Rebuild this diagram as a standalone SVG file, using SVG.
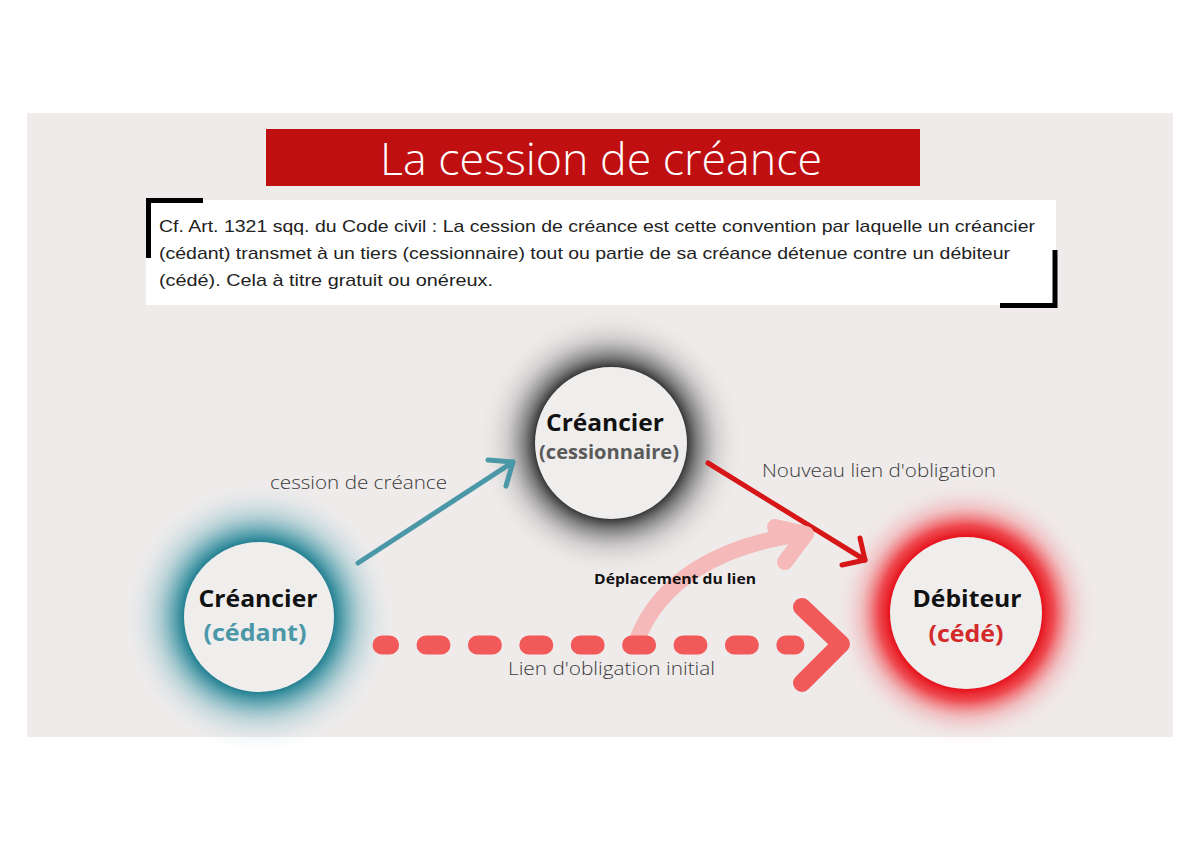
<svg xmlns="http://www.w3.org/2000/svg" width="1200" height="849" viewBox="0 0 1200 849">
<style>
.body{font-family:"Liberation Sans",Arial,sans-serif;font-size:17px;fill:#222}
.node{font-family:"Open Sans","Noto Sans",sans-serif;font-weight:700;text-anchor:middle}
.lbl{font-family:"Open Sans","Noto Sans",sans-serif;font-weight:300;font-size:19px;fill:#3a3a3a}
.disc{fill:#f0eded}
</style>
<defs>
<radialGradient id="gTeal" cx="0.5" cy="0.5" r="0.5">
<stop offset="0.55" stop-color="#1d7d8e" stop-opacity="1"/>
<stop offset="0.63" stop-color="#3f95a4" stop-opacity="0.8"/>
<stop offset="0.76" stop-color="#80b9c4" stop-opacity="0.45"/>
<stop offset="0.9" stop-color="#b5d5db" stop-opacity="0.15"/>
<stop offset="1" stop-color="#d5e6e9" stop-opacity="0"/>
</radialGradient>
<radialGradient id="gGrey" cx="0.5" cy="0.5" r="0.5">
<stop offset="0.55" stop-color="#2a2a2a" stop-opacity="1"/>
<stop offset="0.64" stop-color="#5e5e5e" stop-opacity="0.75"/>
<stop offset="0.78" stop-color="#9a9a9a" stop-opacity="0.35"/>
<stop offset="0.9" stop-color="#c5c5c5" stop-opacity="0.12"/>
<stop offset="1" stop-color="#dddddd" stop-opacity="0"/>
</radialGradient>
<radialGradient id="gRed" cx="0.5" cy="0.5" r="0.5">
<stop offset="0.56" stop-color="#e5101a" stop-opacity="1"/>
<stop offset="0.65" stop-color="#ee3037" stop-opacity="0.85"/>
<stop offset="0.78" stop-color="#f3868a" stop-opacity="0.4"/>
<stop offset="0.9" stop-color="#f5baba" stop-opacity="0.12"/>
<stop offset="1" stop-color="#f5d5d5" stop-opacity="0"/>
</radialGradient>
</defs>
<rect width="1200" height="849" fill="#ffffff"/>
<rect x="27" y="113" width="1146" height="624" fill="#efebeb"/>

<g id="title">
<rect x="266" y="129" width="654" height="57" fill="#c00f10"/>
<text x="601" y="175" text-anchor="middle" font-family="'Open Sans','Noto Sans',sans-serif" font-weight="300" font-size="44" fill="#ffffff" textLength="442" lengthAdjust="spacingAndGlyphs">La cession de créance</text>
</g>

<g id="definition">
<rect x="146" y="200" width="910" height="105" fill="#ffffff"/>
<path d="M148.5 258 V200.5 H203" fill="none" stroke="#000" stroke-width="5"/>
<path d="M1055 250 V305.5 H1000" fill="none" stroke="#000" stroke-width="5"/>
<text class="body" x="159" y="232" textLength="876" lengthAdjust="spacingAndGlyphs">Cf. Art. 1321 sqq. du Code civil : La cession de créance est cette convention par laquelle un créancier</text>
<text class="body" x="159" y="259" textLength="851" lengthAdjust="spacingAndGlyphs">(cédant) transmet à un tiers (cessionnaire) tout ou partie de sa créance détenue contre un débiteur</text>
<text class="body" x="159" y="286" textLength="334" lengthAdjust="spacingAndGlyphs">(cédé). Cela à titre gratuit ou onéreux.</text>
</g>

<g id="node-cedant">
<circle cx="259" cy="617" r="135" fill="url(#gTeal)"/>
<circle class="disc" cx="259" cy="617" r="75"/>
<text class="node" x="258" y="607" font-size="23" fill="#111" textLength="119" lengthAdjust="spacingAndGlyphs">Créancier</text>
<text class="node" x="255" y="641" font-size="23" fill="#4a97a8" textLength="103" lengthAdjust="spacingAndGlyphs">(cédant)</text>
</g>

<g id="node-cessionnaire">
<circle cx="611" cy="443" r="135" fill="url(#gGrey)"/>
<circle class="disc" cx="611" cy="443" r="76"/>
<text class="node" x="605" y="431" font-size="23" fill="#111" textLength="118" lengthAdjust="spacingAndGlyphs">Créancier</text>
<text class="node" x="609" y="459" font-size="19" fill="#5a5a5a" textLength="140" lengthAdjust="spacingAndGlyphs">(cessionnaire)</text>
</g>

<g id="node-debiteur">
<circle cx="966" cy="613" r="135" fill="url(#gRed)"/>
<circle class="disc" cx="966" cy="613" r="76"/>
<text class="node" x="967" y="607" font-size="23" fill="#111" textLength="109" lengthAdjust="spacingAndGlyphs">Débiteur</text>
<text class="node" x="966" y="642" font-size="23" fill="#d42a2a" textLength="75" lengthAdjust="spacingAndGlyphs">(cédé)</text>
</g>

<g id="connectors" fill="none" stroke-linecap="round" stroke-linejoin="round">
<path d="M358 563 L513 462" stroke="#4a97a8" stroke-width="5"/>
<path d="M488 460 L513 462 L506 486" stroke="#4a97a8" stroke-width="5"/>
<path d="M708 463 L865 560" stroke="#d71618" stroke-width="5"/>
<path d="M860 538 L865 560 L842 565" stroke="#d71618" stroke-width="5"/>
<path d="M637 640 C660 580 720 545 802 534" stroke="#f5b9b9" stroke-width="16"/>
<path d="M775 527 L806 534 L785 562" stroke="#f5b9b9" stroke-width="16"/>
<path d="M382 645 H795" stroke="#f25a5a" stroke-width="19" stroke-dasharray="15 36.4" stroke-dashoffset="7.4"/>
<path d="M802 607 L841 644 L802 683" stroke="#f25a5a" stroke-width="18"/>
</g>

<g id="labels">
<text class="lbl" x="270" y="489" textLength="177" lengthAdjust="spacingAndGlyphs">cession de créance</text>
<text class="lbl" x="762" y="477" textLength="234" lengthAdjust="spacingAndGlyphs">Nouveau lien d'obligation</text>
<text class="lbl" x="508" y="675" textLength="207" lengthAdjust="spacingAndGlyphs">Lien d'obligation initial</text>
<text x="594" y="584" font-family="'Open Sans','Noto Sans',sans-serif" font-weight="700" font-size="13.5" fill="#111" textLength="162" lengthAdjust="spacingAndGlyphs">Déplacement du lien</text>
</g>
</svg>
